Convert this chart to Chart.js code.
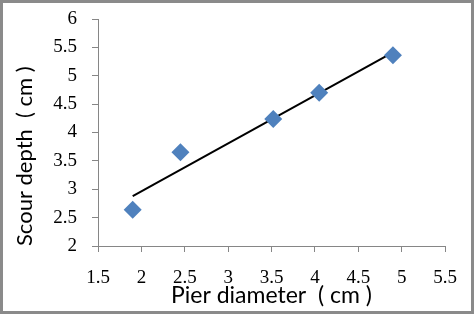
<!DOCTYPE html>
<html lang="en">
<head>
  <meta charset="UTF-8" />
  <title>Scour depth vs pier diameter</title>
  <script src="https://cdn.jsdelivr.net/npm/chart.js"></script>
  <style>
    html, body {
      margin: 0;
      padding: 0;
      background: #fff;
    }

    #chart-wrapper {
      width: 474px;
      height: 314px;
      border: 3px solid #8a8a8a;
      box-sizing: border-box;
      position: relative;
    }

    canvas {
      display: block;
    }
  </style>
</head>
<body>
  <div id="chart-wrapper">
    <canvas id="myChart"></canvas>
  </div>

  <script>
    // measured points
    const pierDiameter = [1.9, 2.45, 3.52, 4.05, 4.9];
    const scourDepth = [2.64, 3.65, 4.24, 4.70, 5.36];

    // linear trend line as drawn (ends)
    const trendX = [1.9, 4.9];
    const trendY = [2.88, 5.41];

    const xTitle = 'Pier diameter  ( cm )';
    const yTitle = 'Scour depth  ( cm )';

    const axisGrey = '#868686';
    const tickFont = { family: '"Liberation Serif", "Times New Roman", serif', size: 19 };
    const xTitleFont = { family: 'Lato, "Open Sans", sans-serif', size: 23 };
    const yTitleFont = { family: 'Lato, "Open Sans", sans-serif', size: 22 };

    const points = pierDiameter.map((x, i) => ({ x: x, y: scourDepth[i] }));
    const trend = trendX.map((x, i) => ({ x: x, y: trendY[i] }));

    const plainNum = v => String(Math.round(v * 10) / 10);

    new Chart(document.getElementById('myChart').getContext('2d'), {
      type: 'scatter',
      data: {
        datasets: [
          {
            label: 'Scour depth',
            data: points,
            pointStyle: 'rectRot',
            pointRadius: 9,
            pointHoverRadius: 9,
            backgroundColor: '#4F81BD',
            borderColor: '#4F81BD',
            borderWidth: 0
          },
          {
            label: 'Linear',
            type: 'line',
            data: trend,
            borderColor: '#000000',
            borderWidth: 2,
            pointRadius: 0,
            fill: false
          }
        ]
      },
      options: {
        responsive: true,
        maintainAspectRatio: false,
        animation: false,
        layout: { padding: { top: 16, right: 26, left: 0, bottom: 0 } },
        plugins: { legend: { display: false }, tooltip: { enabled: false } },
        scales: {
          x: {
            type: 'linear',
            min: 1.5,
            max: 5.5,
            afterFit: s => { s.height = 65; s.paddingLeft = 0; s.paddingRight = 0; },
            ticks: { stepSize: 0.5, color: '#000', font: tickFont, padding: 15, maxRotation: 0, callback: plainNum },
            grid: { drawOnChartArea: false, drawTicks: true, tickLength: 6, color: axisGrey },
            border: { display: true, color: axisGrey, width: 1 },
            title: { display: true, text: xTitle, color: '#000', font: xTitleFont, padding: { top: 0, bottom: 2 } }
          },
          y: {
            type: 'linear',
            min: 2,
            max: 6,
            afterFit: s => { s.width = 95; s.paddingTop = 0; s.paddingBottom = 0; },
            ticks: { stepSize: 0.5, color: '#000', font: tickFont, padding: 15, callback: plainNum },
            grid: { drawOnChartArea: false, drawTicks: true, tickLength: 6, color: axisGrey },
            border: { display: true, color: axisGrey, width: 1 },
            title: { display: true, text: yTitle, align: 'start', color: '#000', font: yTitleFont, padding: { top: 9, bottom: 0 } }
          }
        }
      }
    });
  </script>
</body>
</html>
